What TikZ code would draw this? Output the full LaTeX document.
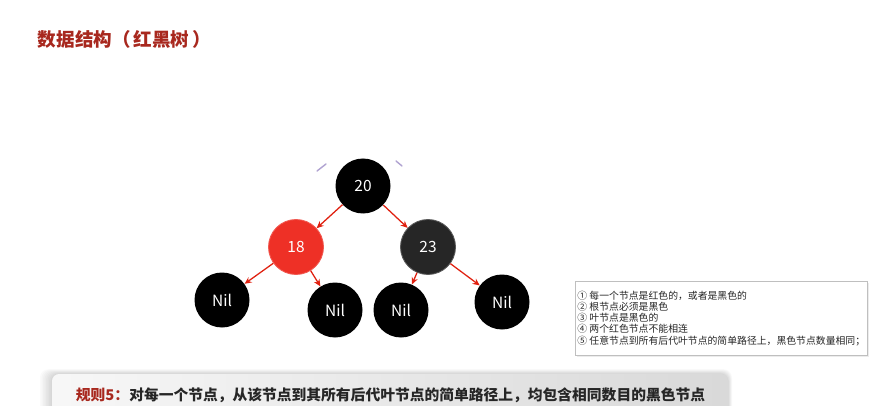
\documentclass[tikz,border=0pt]{standalone}
\usepackage{fontspec}
\setmainfont{Noto Sans CJK SC}
\usepackage{tikz}
\usetikzlibrary{arrows.meta,shadows}

\definecolor{titlered}{HTML}{A8281E}
\definecolor{nodered}{HTML}{EE3026}
\definecolor{edgered}{HTML}{E0200F}
\definecolor{darknode}{HTML}{262626}
\definecolor{penmark}{HTML}{9C8CC6}

\begin{document}
\begin{tikzpicture}[x=0.025cm,y=-0.025cm,
    blacknode/.style={circle, fill=black, minimum size=55*0.025cm, inner sep=0pt,
        text=white, font=\fontsize{11}{13}\selectfont},
    rednode/.style={blacknode, fill=nodered, draw=nodered!80!white, line width=0.6pt},
    greynode/.style={blacknode, fill=darknode, draw=black!65, line width=0.6pt},
    edge/.style={draw=edgered, line width=0.9pt, -{Stealth[length=5pt,width=4.5pt]}}]

\useasboundingbox[fill=white] (0,0) rectangle (878,406);

    % Title
    \node[anchor=west, text=titlered, font=\fontsize{13.2}{15}\selectfont\bfseries] (title) at (33,39) {数据结构（\,红黑树\,）};

    % Pen marks near the root
    \draw[penmark!80, line width=1pt, line cap=round] (317,171) -- (326,164);
    \draw[penmark!80, line width=1pt, line cap=round] (396,161) -- (402,166);

    % Tree nodes
    \node[blacknode] (n20) at (363,186) {20};
    \node[rednode] (n18) at (296,247) {18};
    \node[greynode] (n23) at (428,247) {23};
    \node[blacknode] (nilA) at (222,300) {Nil};
    \node[blacknode] (nilB) at (335,310) {Nil};
    \node[blacknode] (nilC) at (401,310) {Nil};
    \node[blacknode] (nilD) at (502,302) {Nil};

    % Edges
    \draw[edge] (n20) -- (n18);
    \draw[edge] (n20) -- (n23);
    \draw[edge] (n18) -- (nilA);
    \draw[edge] (n18) -- (nilB);
    \draw[edge] (n23) -- (nilC);
    \draw[edge] (n23) -- (nilD);

    % Rules box
    \node[anchor=north west, draw=black!25, fill=white, drop shadow={opacity=0.15, shadow xshift=1pt, shadow yshift=-1pt},
        minimum width=292*0.025cm, minimum height=74*0.025cm, inner xsep=1.5pt, inner ysep=2pt,
        align=left, text=black!85, font=\fontsize{7}{8}\selectfont] (rules) at (575,281)
        {① 每一个节点是红色的，或者是黑色的\\
         ② 根节点必须是黑色\\
         ③ 叶节点是黑色的\\
         ④ 两个红色节点不能相连\\
         ⑤ 任意节点到所有后代叶节点的简单路径上，黑色节点数量相同；};

    % Bottom banner, with a soft shadow
    \foreach \s in {1,...,8}
        \fill[black, opacity=0.02, rounded corners=6pt] (52-\s*1.5,374-\s*0.6) rectangle (728+\s*0.5,420);
    \shade[rounded corners=5pt, left color=white!97!black, right color=black!15] (52,374) rectangle (728,420);
    \node[anchor=west, font=\fontsize{10.5}{12}\selectfont\bfseries, text=black!85] (rule5) at (71,395)
        {\textcolor{titlered}{规则5：}对每一个节点，从该节点到其所有后代叶节点的简单路径上，均包含相同数目的黑色节点};

\end{tikzpicture}
\end{document}
